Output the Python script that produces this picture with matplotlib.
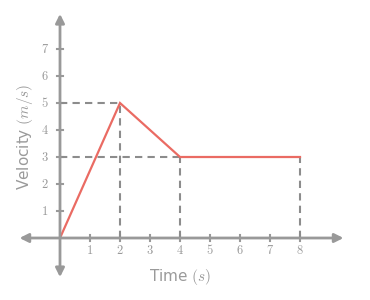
import matplotlib.pyplot as plt

# Velocity-time data
time = [0, 2, 4, 8]
velocity = [0, 5, 3, 3]
x_ticks = [1, 2, 3, 4, 5, 6, 7, 8]
y_ticks = [1, 2, 3, 4, 5, 6, 7]

axis_col = '#999999'
dash_col = '#8c8c8c'
line_col = '#ea6b63'
text_col = '#9a9a9a'

plt.rcParams['mathtext.fontset'] = 'cm'

fig = plt.figure(figsize=(3.7, 3.0), dpi=100)
ax = fig.add_axes([0, 0, 1, 1])
ax.set_xlim(-2, 10.333)
ax.set_ylim(-2.296, 8.815)
ax.axis('off')

# axes with arrows at both ends
arrow = dict(arrowstyle='-|>', color=axis_col, lw=2, mutation_scale=13, shrinkA=0, shrinkB=0)
ax.annotate('', xy=(9.45, 0), xytext=(0, 0), arrowprops=arrow)
ax.annotate('', xy=(-1.35, 0), xytext=(0, 0), arrowprops=arrow)
ax.annotate('', xy=(0, 8.3), xytext=(0, 0), arrowprops=arrow)
ax.annotate('', xy=(0, -1.45), xytext=(0, 0), arrowprops=arrow)

# ticks crossing the axes
for t in x_ticks:
    ax.plot([t, t], [-0.12, 0.12], color=axis_col, lw=1.5)
    ax.text(t, -0.45, '$%d$' % t, ha='center', va='center', fontsize=9, color=text_col)
for t in y_ticks:
    ax.plot([-0.1, 0.1], [t, t], color=axis_col, lw=1.5)
    ax.text(-0.5, t, '$%d$' % t, ha='center', va='center', fontsize=9, color=text_col)

# dashed guide lines
dash = dict(color=dash_col, lw=1.5, ls=(0, (3.5, 2.5)))
for tx, vy in zip(time[1:], velocity[1:]):
    ax.plot([tx, tx], [0, vy], **dash)
for tx, vy in zip(time[1:3], velocity[1:3]):
    ax.plot([0, tx], [vy, vy], **dash)

ax.plot(time, velocity, color=line_col, lw=1.6, solid_joinstyle='miter')

ax.text(-1.17, 3.74, 'Velocity $(m/s)$', rotation=90, ha='center', va='center',
        fontsize=11, color=text_col)
ax.text(4, -1.45, 'Time $(s)$', ha='center', va='center', fontsize=11, color=text_col)

fig.savefig('out.png', dpi=100)
